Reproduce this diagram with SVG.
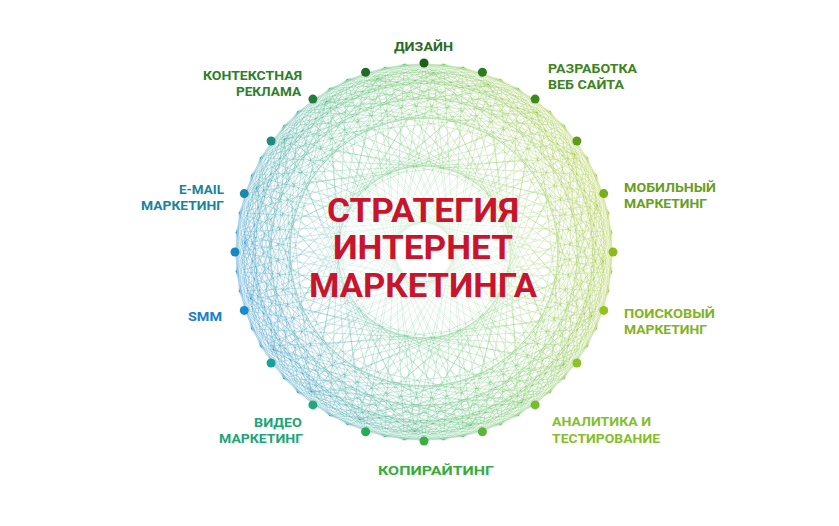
<svg xmlns="http://www.w3.org/2000/svg" xmlns:xlink="http://www.w3.org/1999/xlink" width="839" height="526" viewBox="0 0 839 526">
<style>
.l{font-family:Roboto,"Liberation Sans",sans-serif;font-weight:bold;font-size:13.5px}
.t{font-family:Roboto,"Liberation Sans",sans-serif;font-weight:bold;font-size:33px;fill:#c8142c;text-anchor:middle}
.n polygon{fill:none;stroke:url(#g);stroke-width:0.6;stroke-opacity:0.38}
</style>
<defs>
<linearGradient id="g" gradientUnits="userSpaceOnUse" x1="235" y1="330" x2="613" y2="180">
<stop offset="0" stop-color="#1a86d0"/><stop offset="0.45" stop-color="#3cb460"/><stop offset="1" stop-color="#a6c41e"/>
</linearGradient>
<radialGradient id="halo"><stop offset="0" stop-color="#fff" stop-opacity="0.85"/><stop offset="0.6" stop-color="#fff" stop-opacity="0.5"/><stop offset="1" stop-color="#fff" stop-opacity="0"/></radialGradient>
<g id="net" class="n">
<polygon points="424,63 482.4,72.3 535.1,99.1 576.9,141 603.7,193.6 613,252 603.7,310.4 576.9,363 535.1,404.9 482.4,431.7 424,441 365.6,431.7 312.9,404.9 271.1,363 244.3,310.4 235,252 244.3,193.6 271.1,141 312.9,99.1 365.6,72.3"/>
<polygon points="424,63 576.9,141 603.7,310.4 482.4,431.7 312.9,404.9 235,252 312.9,99.1 482.4,72.3 603.7,193.6 576.9,363 424,441 271.1,363 244.3,193.6 365.6,72.3 535.1,99.1 613,252 535.1,404.9 365.6,431.7 244.3,310.4 271.1,141"/>
<polygon points="424,63 576.9,363 244.3,310.4 482.4,72.3 535.1,404.9 235,252 535.1,99.1 482.4,431.7 244.3,193.6 576.9,141 424,441 271.1,141 603.7,193.6 365.6,431.7 312.9,99.1 613,252 312.9,404.9 365.6,72.3 603.7,310.4 271.1,363"/>
<polygon points="424,63 482.4,431.7 312.9,99.1 576.9,363 244.3,193.6 613,252 244.3,310.4 576.9,141 312.9,404.9 482.4,72.3 424,441 365.6,72.3 535.1,404.9 271.1,141 603.7,310.4 235,252 603.7,193.6 271.1,363 535.1,99.1 365.6,431.7"/>
<polygon points="424,63 535.1,99.1 603.7,193.6 603.7,310.4 535.1,404.9 424,441 312.9,404.9 244.3,310.4 244.3,193.6 312.9,99.1"/>
<polygon points="482.4,72.3 576.9,141 613,252 576.9,363 482.4,431.7 365.6,431.7 271.1,363 235,252 271.1,141 365.6,72.3"/>
<polygon points="424,63 603.7,193.6 535.1,404.9 312.9,404.9 244.3,193.6"/>
<polygon points="482.4,72.3 613,252 482.4,431.7 271.1,363 271.1,141"/>
<polygon points="535.1,99.1 603.7,310.4 424,441 244.3,310.4 312.9,99.1"/>
<polygon points="576.9,141 576.9,363 365.6,431.7 235,252 365.6,72.3"/>
<polygon points="424,63 613,252 424,441 235,252"/>
<polygon points="482.4,72.3 603.7,310.4 365.6,431.7 244.3,193.6"/>
<polygon points="535.1,99.1 576.9,363 312.9,404.9 271.1,141"/>
<polygon points="576.9,141 535.1,404.9 271.1,363 312.9,99.1"/>
<polygon points="603.7,193.6 482.4,431.7 244.3,310.4 365.6,72.3"/>
</g>
</defs>
<g id="connectors">
<use xlink:href="#net"/>
<use xlink:href="#net" transform="rotate(6 424 252)"/>
<use xlink:href="#net" transform="rotate(12 424 252)"/>
<use xlink:href="#net" transform="translate(424 252) scale(0.95) rotate(3) translate(-424 -252)"/>
<ellipse cx="424" cy="252" rx="130" ry="90" fill="url(#halo)"/>
</g>
<g id="dots">
<circle cx="424" cy="63" r="4.5" fill="#1f5e1f"/><circle cx="482.4" cy="72.3" r="4.5" fill="#2e7a1e"/><circle cx="535.1" cy="99.1" r="4.5" fill="#3e8a1e"/><circle cx="576.9" cy="141" r="4.5" fill="#5e9a1e"/><circle cx="603.7" cy="193.6" r="4.5" fill="#7aac1e"/><circle cx="613" cy="252" r="4.5" fill="#8ab81e"/><circle cx="603.7" cy="310.4" r="4.5" fill="#96c21e"/><circle cx="576.9" cy="363" r="4.5" fill="#8ec02a"/><circle cx="535.1" cy="404.9" r="4.5" fill="#78bc30"/><circle cx="482.4" cy="431.7" r="4.5" fill="#5cb43a"/><circle cx="424" cy="441" r="4.5" fill="#3cae42"/><circle cx="365.6" cy="431.7" r="4.5" fill="#28aa58"/><circle cx="312.9" cy="404.9" r="4.5" fill="#20a878"/><circle cx="271.1" cy="363" r="4.5" fill="#1aa09a"/><circle cx="244.3" cy="310.4" r="4.5" fill="#1a8ccc"/><circle cx="235" cy="252" r="4.5" fill="#1a86c4"/><circle cx="244.3" cy="193.6" r="4.5" fill="#1a8aa8"/><circle cx="271.1" cy="141" r="4.5" fill="#1f8a80"/><circle cx="312.9" cy="99.1" r="4.5" fill="#257a3e"/><circle cx="365.6" cy="72.3" r="4.5" fill="#226a28"/>
</g>
<g id="title">
<text class="t" x="423" y="222" textLength="192" lengthAdjust="spacingAndGlyphs">СТРАТЕГИЯ</text>
<text class="t" x="423" y="259" textLength="180" lengthAdjust="spacingAndGlyphs">ИНТЕРНЕТ</text>
<text class="t" x="423" y="297" textLength="228" lengthAdjust="spacingAndGlyphs">МАРКЕТИНГА</text>
</g>
<g id="labels" class="l">
<text id="n-design" x="394" y="51" fill="#2a6a28" textLength="59" lengthAdjust="spacingAndGlyphs">ДИЗАЙН</text>
<g id="n-context" fill="#2e7e2a" text-anchor="end"><text x="302" y="80" textLength="99" lengthAdjust="spacingAndGlyphs">КОНТЕКСТНАЯ</text><text x="301" y="96" textLength="65" lengthAdjust="spacingAndGlyphs">РЕКЛАМА</text></g>
<g id="n-dev" fill="#3e8420"><text x="548" y="73" textLength="89" lengthAdjust="spacingAndGlyphs">РАЗРАБОТКА</text><text x="548" y="89" textLength="76" lengthAdjust="spacingAndGlyphs">ВЕБ САЙТА</text></g>
<g id="n-email" fill="#1a8498" text-anchor="end"><text x="224" y="194" textLength="45" lengthAdjust="spacingAndGlyphs">E-MAIL</text><text x="224" y="210" textLength="83" lengthAdjust="spacingAndGlyphs">МАРКЕТИНГ</text></g>
<g id="n-mobile" fill="#6a9e1e"><text x="624" y="192" textLength="92" lengthAdjust="spacingAndGlyphs">МОБИЛЬНЫЙ</text><text x="624" y="208" textLength="83" lengthAdjust="spacingAndGlyphs">МАРКЕТИНГ</text></g>
<text id="n-smm" x="222" y="321" fill="#1a80c8" text-anchor="end" textLength="34" lengthAdjust="spacingAndGlyphs">SMM</text>
<g id="n-search" fill="#82b41e"><text x="624" y="318" textLength="91" lengthAdjust="spacingAndGlyphs">ПОИСКОВЫЙ</text><text x="624" y="334" textLength="83" lengthAdjust="spacingAndGlyphs">МАРКЕТИНГ</text></g>
<g id="n-video" fill="#1ea478" text-anchor="end"><text x="302" y="427" textLength="48" lengthAdjust="spacingAndGlyphs">ВИДЕО</text><text x="303" y="443" textLength="84" lengthAdjust="spacingAndGlyphs">МАРКЕТИНГ</text></g>
<g id="n-analytics" fill="#86be2c"><text x="552" y="426" textLength="99" lengthAdjust="spacingAndGlyphs">АНАЛИТИКА И</text><text x="552" y="443" textLength="108" lengthAdjust="spacingAndGlyphs">ТЕСТИРОВАНИЕ</text></g>
<text id="n-copy" x="378" y="475" fill="#36ac3e" textLength="116" lengthAdjust="spacingAndGlyphs">КОПИРАЙТИНГ</text>
</g>
</svg>
